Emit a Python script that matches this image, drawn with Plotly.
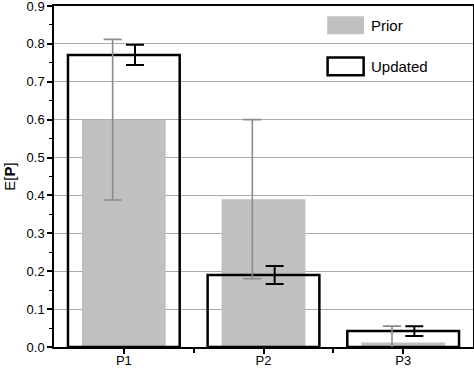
import plotly.graph_objects as go

categories = ["P1", "P2", "P3"]
prior_mean = [0.600, 0.390, 0.012]
prior_err = [0.212, 0.210, 0.043]
updated_mean = [0.771, 0.190, 0.042]
updated_err = [0.027, 0.024, 0.013]
y_ticks = [0.0, 0.1, 0.2, 0.3, 0.4, 0.5, 0.6, 0.7, 0.8, 0.9]

idx = list(range(len(categories)))
ERR_SHIFT = 0.08

fig = go.Figure()
fig.add_trace(go.Bar(x=idx, y=prior_mean, width=0.6, name="Prior",
                     marker=dict(color="#c0c0c0", line=dict(width=0)),
                     showlegend=False))
fig.add_trace(go.Bar(x=idx, y=updated_mean, width=0.8, name="Updated",
                     marker=dict(color="rgba(0,0,0,0)", line=dict(color="black", width=2.5)),
                     showlegend=False))
fig.add_trace(go.Scatter(x=[i - ERR_SHIFT for i in idx], y=prior_mean, mode="markers",
                         marker=dict(size=0.1, color="rgba(0,0,0,0)"),
                         error_y=dict(type="data", array=prior_err, color="#8c8c8c",
                                      thickness=1.6, width=9),
                         showlegend=False, hoverinfo="skip"))
fig.add_trace(go.Scatter(x=[i + ERR_SHIFT for i in idx], y=updated_mean, mode="markers",
                         marker=dict(size=0.1, color="rgba(0,0,0,0)"),
                         error_y=dict(type="data", array=updated_err, color="black",
                                      thickness=2, width=9),
                         showlegend=False, hoverinfo="skip"))

# legend drawn as shapes + text
fig.add_shape(type="rect", xref="paper", yref="paper", x0=0.652, x1=0.74, y0=0.917, y1=0.97,
              fillcolor="#c0c0c0", line=dict(width=0))
fig.add_shape(type="rect", xref="paper", yref="paper", x0=0.653, x1=0.739, y0=0.797, y1=0.849,
              fillcolor="white", line=dict(color="black", width=2.5))
fig.add_annotation(xref="paper", yref="paper", x=0.752, y=0.944, text="Prior", showarrow=False,
                   xanchor="left", yanchor="middle", font=dict(size=15, color="black"))
fig.add_annotation(xref="paper", yref="paper", x=0.752, y=0.823, text="Updated", showarrow=False,
                   xanchor="left", yanchor="middle", font=dict(size=15, color="black"))

fig.update_layout(
    width=474, height=368,
    margin=dict(l=54, r=1, t=6, b=21),
    paper_bgcolor="white", plot_bgcolor="white",
    barmode="overlay",
    font=dict(family="Liberation Sans, Arial, sans-serif", size=13, color="black"),
    showlegend=False,
)
fig.update_xaxes(range=[-0.5, 2.5], tickmode="array", tickvals=idx, ticktext=categories,
                 showgrid=False, showline=True, linecolor="black", linewidth=1.5, mirror=True,
                 ticks="outside", ticklen=5, tickwidth=1.5, tickcolor="black",
                 ticklabelstandoff=-4, ticklabeloverflow="allow",
                 minor=dict(tickmode="array", tickvals=[0.5, 1.5], ticks="outside", ticklen=4,
                            tickwidth=1.5, tickcolor="black"),
                 zeroline=False, fixedrange=True, automargin=False)
fig.update_yaxes(range=[0, 0.9], tickmode="array", tickvals=y_ticks,
                 ticktext=[f"{v:.1f}" for v in y_ticks],
                 showgrid=True, gridcolor="#aaaaaa", gridwidth=1,
                 showline=True, linecolor="black", linewidth=1.5, mirror=True,
                 ticks="outside", ticklen=5, tickwidth=1.5, tickcolor="black",
                 ticklabeloverflow="allow",
                 minor=dict(dtick=0.05, ticks="outside", ticklen=3, tickwidth=1,
                            tickcolor="black", showgrid=False),
                 zeroline=False, title=dict(text="E[<b>P</b>]", standoff=7, font=dict(size=15)),
                 fixedrange=True, automargin=False)

fig.write_html("out.html", config={"displayModeBar": False},
               post_script="document.body.style.margin='0';document.body.style.overflow='hidden';")
